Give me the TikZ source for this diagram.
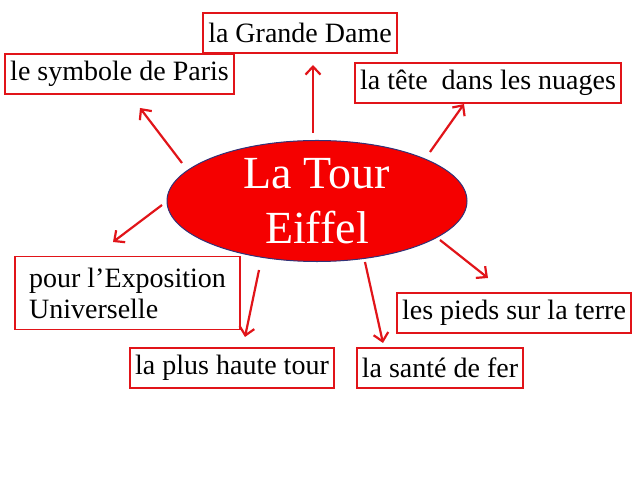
\documentclass[tikz,border=0pt]{standalone}
\usepackage{fontspec}
\setmainfont{Liberation Serif}
\usetikzlibrary{shapes.geometric}
\usetikzlibrary{arrows.meta}
\definecolor{boxred}{RGB}{225,20,25}
\definecolor{tourred}{RGB}{245,0,0}
\definecolor{rimblue}{RGB}{50,50,120}
\tikzset{
	motbox/.style={draw=boxred,line width=1.6pt,inner xsep=5pt,inner ysep=5pt,minimum height=40pt,font=\fontsize{28}{31}\selectfont},
	fleche/.style={draw=boxred,line width=2.2pt,-{Straight Barb[length=8pt,width=15pt]}}
}

\begin{document}
\begin{tikzpicture}[x=1pt,y=-1pt]
		\useasboundingbox (0,0) rectangle (638,478);
		% centre
		\node[ellipse,draw=rimblue,line width=1pt,fill=tourred,minimum width=300pt,minimum height=118pt,inner sep=0pt,
			text=white,align=center,font=\fontsize{46}{56}\selectfont] (tour) at (317,201) {La Tour\\[-1pt]Eiffel};
		% mots
		\node[motbox] (dame) at (300,33) {la Grande Dame};
		\node[motbox] (symbole) at (119.5,74) {le symbole de Paris};
		\node[motbox] (tete) at (488,83) {la tête\ \ dans les nuages};
		\node[motbox,align=left,minimum width=225pt,minimum height=73pt] (expo) at (127.5,293) {pour l’Exposition\\Universelle};
		\node[motbox] (pieds) at (514,313) {les pieds sur la terre};
		\node[motbox] (haute) at (232,368) {la plus haute tour};
		\node[motbox] (sante) at (440,368) {la santé de fer};
		% fleches
		\coordinate (dameA) at (313,133);
		\coordinate (dameB) at (313,65);
		\coordinate (symboleA) at (182,163);
		\coordinate (symboleB) at (140,108);
		\coordinate (teteA) at (430,152);
		\coordinate (teteB) at (464,104);
		\coordinate (expoA) at (162,205);
		\coordinate (expoB) at (113,242);
		\coordinate (piedsA) at (440,240);
		\coordinate (piedsB) at (488,278);
		\coordinate (hauteA) at (259,270);
		\coordinate (hauteB) at (245,337);
		\coordinate (santeA) at (365,262);
		\coordinate (santeB) at (383,343);
		\foreach \m in {dame,symbole,tete,expo,pieds,haute,sante}
			\draw[fleche] (\m A) -- (\m B);
\end{tikzpicture}
\end{document}
